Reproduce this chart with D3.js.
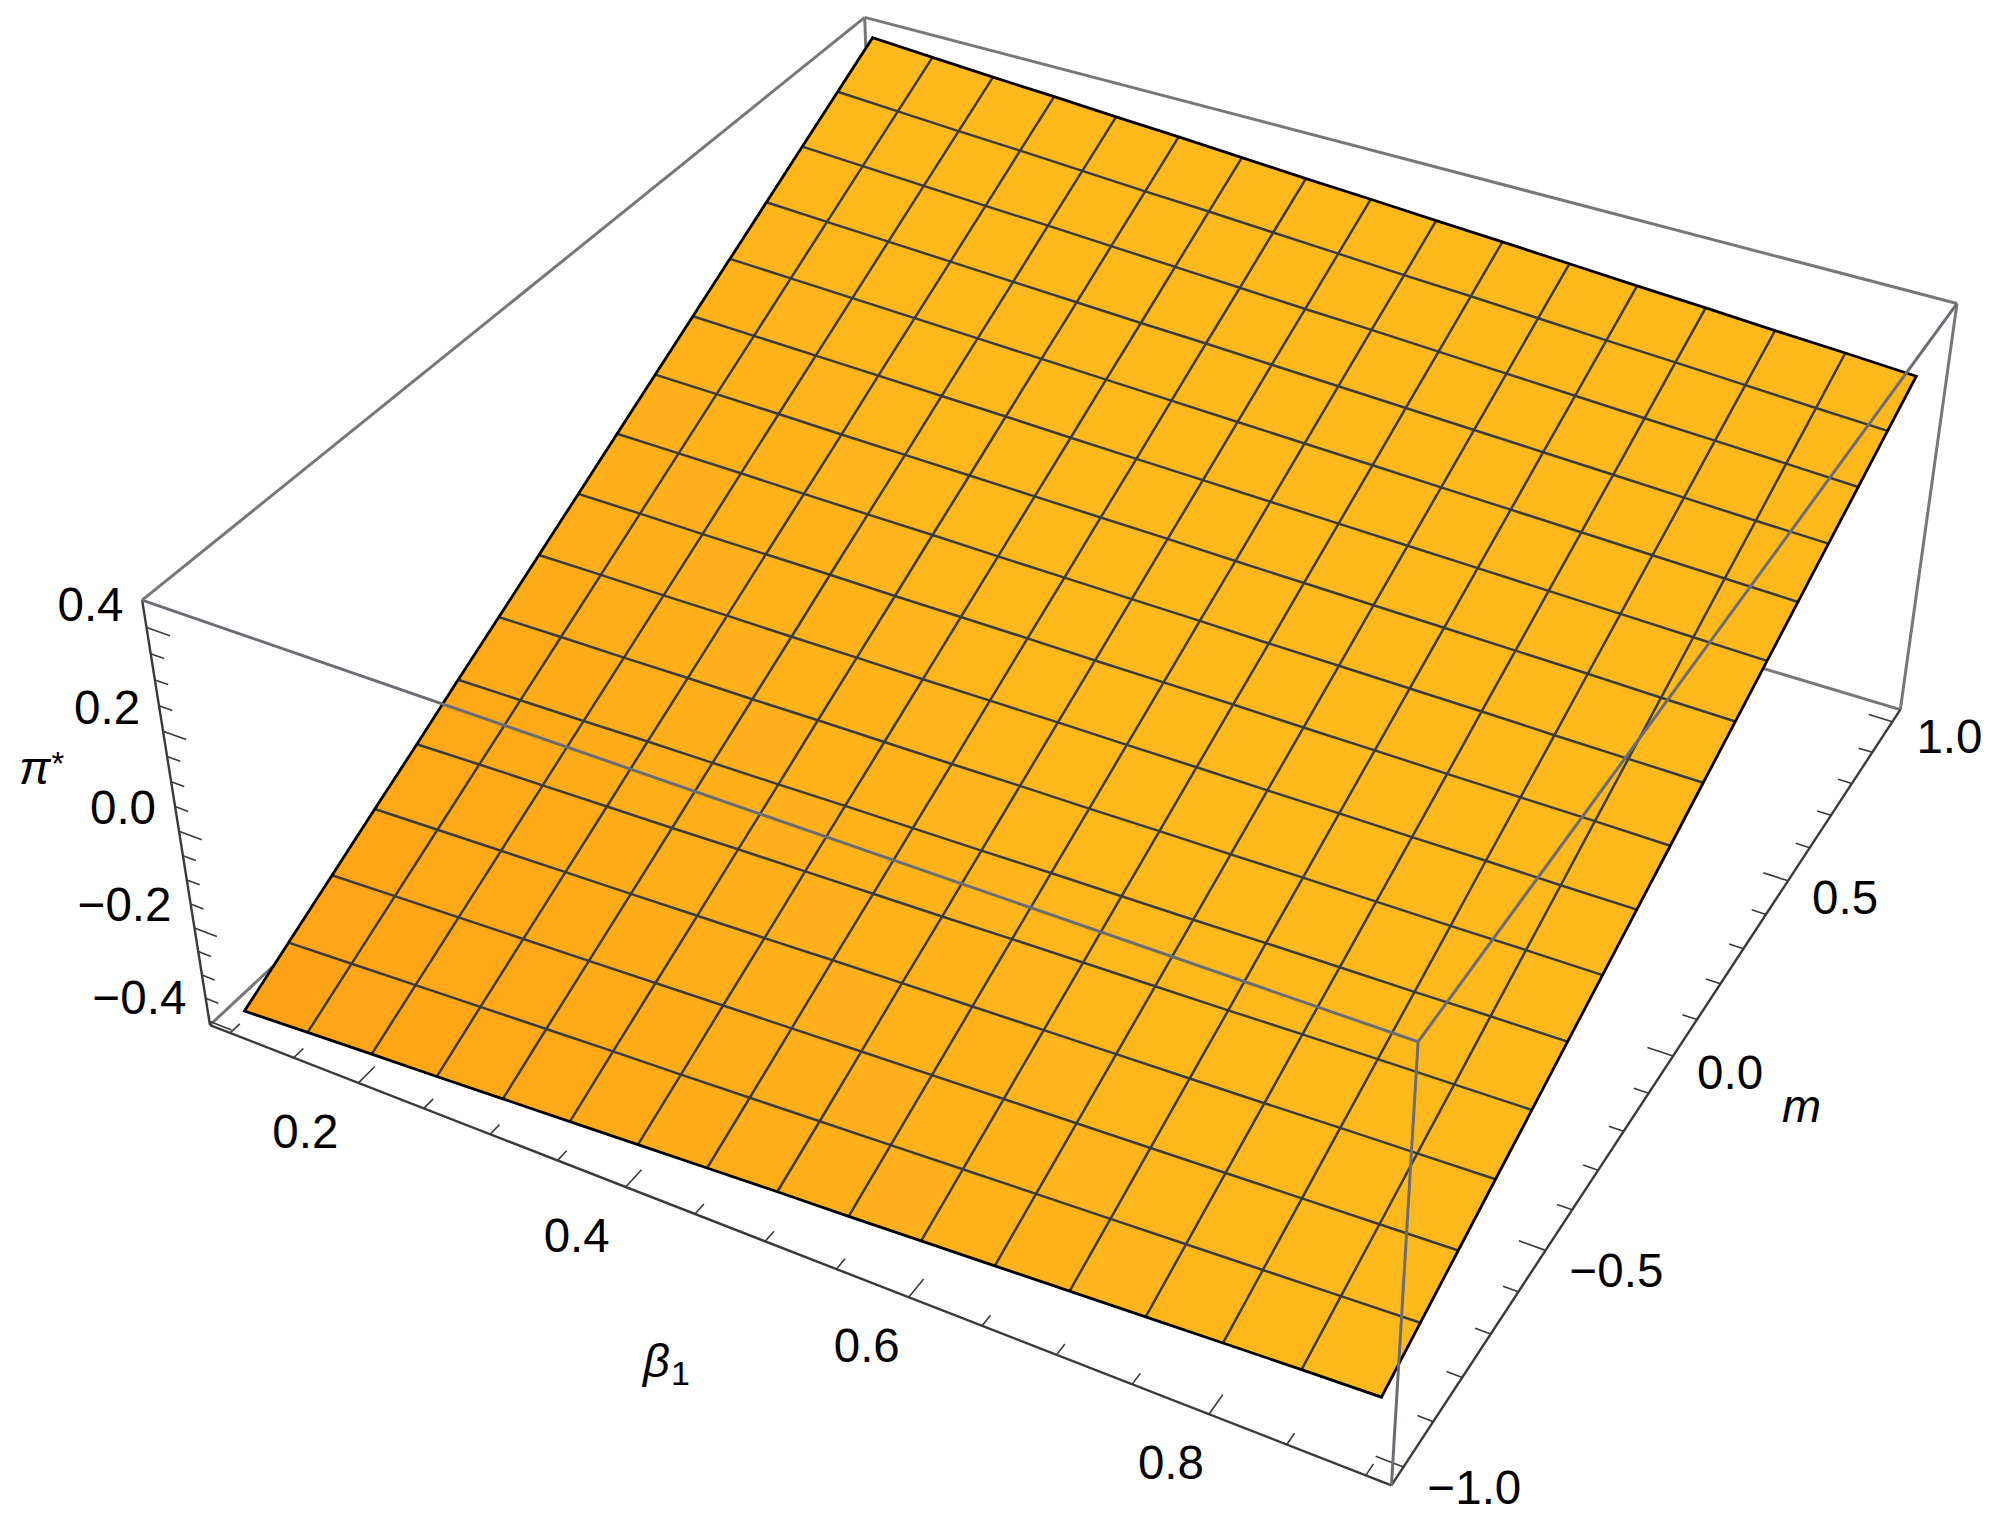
<!DOCTYPE html>
<html>
<head>
<meta charset="utf-8">
<style>
    body { margin: 0; background: #fff; }
    text { font-family: "Liberation Sans", Arial, sans-serif; fill: #000; }
</style>
</head>
<body>
<svg id="chart" width="1999" height="1526"></svg>
<script src="https://cdn.jsdelivr.net/npm/d3@7/dist/d3.min.js"></script>
<script>
// plot box limits
const betaRange = [0.084, 0.916]
const mRange = [-1.04, 1.04]
const piRange = [-0.408, 0.452]

// mesh positions
const betaGrid = [0.1, 0.15, 0.2, 0.25, 0.3, 0.35, 0.4, 0.45, 0.5, 0.55, 0.6, 0.65, 0.7, 0.75, 0.8, 0.85, 0.9]
const mGrid = [-1, -0.875, -0.75, -0.625, -0.5, -0.375, -0.25, -0.125, 0, 0.125, 0.25, 0.375, 0.5, 0.625, 0.75, 0.875, 1]

// pi*, one row per m, one column per beta
const piValues = [
    [-.392, -.385, -.378, -.372, -.365, -.358, -.351, -.344, -.337, -.331, -.324, -.317, -.310, -.303, -.296, -.289, -.283],
    [-.340, -.334, -.328, -.322, -.316, -.310, -.305, -.299, -.293, -.287, -.281, -.275, -.269, -.263, -.257, -.251, -.245],
    [-.288, -.283, -.278, -.273, -.268, -.263, -.258, -.253, -.248, -.243, -.238, -.233, -.228, -.223, -.218, -.213, -.208],
    [-.236, -.232, -.228, -.224, -.220, -.216, -.212, -.207, -.203, -.199, -.195, -.191, -.187, -.183, -.178, -.174, -.170],
    [-.185, -.181, -.178, -.175, -.172, -.168, -.165, -.162, -.159, -.155, -.152, -.149, -.146, -.142, -.139, -.136, -.133],
    [-.132, -.130, -.128, -.125, -.123, -.121, -.118, -.116, -.114, -.111, -.109, -.107, -.104, -.102, -.100, -.097, -.095],
    [-.081, -.079, -.078, -.076, -.075, -.073, -.072, -.071, -.069, -.068, -.066, -.065, -.063, -.062, -.061, -.059, -.058],
    [-.029, -.028, -.028, -.027, -.027, -.026, -.026, -.025, -.024, -.024, -.023, -.023, -.022, -.022, -.021, -.021, -.020],
    [.023, .023, .022, .022, .022, .021, .021, .021, .020, .020, .020, .019, .019, .018, .018, .018, .017],
    [.075, .074, .073, .071, .070, .069, .067, .066, .065, .064, .062, .061, .060, .059, .057, .056, .055],
    [.127, .125, .123, .120, .118, .116, .114, .112, .110, .107, .105, .103, .101, .099, .097, .094, .092],
    [.179, .176, .173, .170, .167, .164, .160, .157, .154, .151, .148, .145, .142, .139, .136, .133, .130],
    [.231, .227, .223, .219, .215, .211, .207, .203, .199, .195, .191, .187, .183, .179, .175, .171, .167],
    [.283, .278, .273, .268, .263, .258, .253, .249, .244, .239, .234, .229, .224, .219, .214, .209, .205],
    [.335, .329, .323, .317, .312, .306, .300, .294, .288, .283, .277, .271, .265, .259, .254, .248, .242],
    [.387, .380, .373, .367, .360, .353, .347, .340, .333, .326, .320, .313, .306, .300, .293, .286, .280],
    [.439, .431, .423, .416, .408, .401, .393, .385, .378, .370, .363, .355, .347, .340, .332, .325, .317]
]

// ticks
const betaTicks = [0.1, 0.15, 0.2, 0.25, 0.3, 0.35, 0.4, 0.45, 0.5, 0.55, 0.6, 0.65, 0.7, 0.75, 0.8, 0.85, 0.9]
const betaMajor = [0.2, 0.4, 0.6, 0.8]
const betaLabels = ["0.2", "0.4", "0.6", "0.8"]
const mTicks = [-1, -0.9, -0.8, -0.7, -0.6, -0.5, -0.4, -0.3, -0.2, -0.1, 0, 0.1, 0.2, 0.3, 0.4, 0.5, 0.6, 0.7, 0.8, 0.9, 1]
const mMajor = [-1, -0.5, 0, 0.5, 1]
const mLabels = ["\u22121.0", "\u22120.5", "0.0", "0.5", "1.0"]
const piTicks = [-0.4, -0.35, -0.3, -0.25, -0.2, -0.15, -0.1, -0.05, 0, 0.05, 0.1, 0.15, 0.2, 0.25, 0.3, 0.35, 0.4]
const piMajor = [-0.4, -0.2, 0, 0.2, 0.4]
const piLabels = ["\u22120.4", "\u22120.2", "0.0", "0.2", "0.4"]

// perspective camera fitted to the box, works on the 0-1 scaled coordinates
const camera = [1023.796, 854.1318, -78.00027, 209.9566, 291.9762, -537.2795, -467.9696, 1025.028, -0.1133153, 0.2120269, -0.07167342]

const xScale = d3.scaleLinear().domain(betaRange).range([0, 1])
const yScale = d3.scaleLinear().domain(mRange).range([0, 1])
const zScale = d3.scaleLinear().domain(piRange).range([0, 1])

function project(beta, m, pi) {
    const x = xScale(beta), y = yScale(m), z = zScale(pi)
    const w = camera[8] * x + camera[9] * y + camera[10] * z + 1
    return [
        (camera[0] * x + camera[1] * y + camera[2] * z + camera[3]) / w,
        (camera[4] * x + camera[5] * y + camera[6] * z + camera[7]) / w
    ]
}

const [b0, b1] = betaRange
const [m0, m1] = mRange
const [z0, z1] = piRange
const svg = d3.select("#chart")
const line = d3.line()

function edge(parent, a, b, color, width) {
    parent.append("path")
        .attr("d", line([project(...a), project(...b)]))
        .style("fill", "none")
        .style("stroke", color)
        .style("stroke-width", width)
}

const boxColor = "#777777"
const boxFront = "#6a6e74"
const axisColor = "#3a3a3a"

// Box edges behind the surface
const back = svg.append("g")
edge(back, [b0, m1, z1], [b0, m1, z0], boxColor, 3)
edge(back, [b0, m0, z0], [b0, m1, z0], boxColor, 3)
edge(back, [b1, m1, z0], [b0, m1, z0], boxColor, 3)
edge(back, [b0, m0, z1], [b0, m1, z1], boxColor, 3)
edge(back, [b0, m1, z1], [b1, m1, z1], boxColor, 3)
edge(back, [b1, m1, z1], [b1, m1, z0], boxColor, 3)

// Axis lines
const axes = svg.append("g")
edge(axes, [b0, m0, z1], [b0, m0, z0], axisColor, 2.4)
edge(axes, [b0, m0, z0], [b1, m0, z0], axisColor, 2.4)
edge(axes, [b1, m0, z0], [b1, m1, z0], axisColor, 2.4)

// Tick marks, length is a fraction of the range they point along
const tickMajor = 0.021, tickMinor = 0.012
const ticks = svg.append("g")
const isMajor = (list, v) => list.some(t => Math.abs(t - v) < 1e-6)
betaTicks.forEach(t => {
    const len = isMajor(betaMajor, t) ? tickMajor : tickMinor
    edge(ticks, [t, m0, z0], [t, m0 + len * (m1 - m0), z0], axisColor, 1.6)
})
mTicks.forEach(t => {
    const len = isMajor(mMajor, t) ? tickMajor : tickMinor
    edge(ticks, [b1, t, z0], [b1 - len * (b1 - b0), t, z0], axisColor, 1.6)
})
piTicks.forEach(t => {
    const len = isMajor(piMajor, t) ? tickMajor : tickMinor
    edge(ticks, [b0, m0, t], [b0 + len * (b1 - b0), m0, t], axisColor, 1.6)
})

// Surface cells
const cellColor = d3.scaleLinear().domain([0, 1]).range(["#ffa216", "#ffb91c"]).clamp(true)
const surface = svg.append("g")
const cells = []
for (let j = 0; j < mGrid.length - 1; j++) {
    for (let i = 0; i < betaGrid.length - 1; i++) {
        cells.push({ i, j })
    }
}
const surfacePoint = (i, j) => project(betaGrid[i], mGrid[j], piValues[j][i])
surface.selectAll("path.cell")
    .data(cells)
    .enter()
    .append("path")
    .attr("class", "cell")
    .attr("d", d => line([
        surfacePoint(d.i, d.j),
        surfacePoint(d.i + 1, d.j),
        surfacePoint(d.i + 1, d.j + 1),
        surfacePoint(d.i, d.j + 1)
    ]) + "Z")
    .style("fill", d => cellColor((d.i + d.j + 1) / (betaGrid.length - 1)))
    .style("stroke", d => cellColor((d.i + d.j + 1) / (betaGrid.length - 1)))
    .style("stroke-width", 0.6)

// Mesh lines
for (let j = 1; j < mGrid.length - 1; j++) {
    surface.append("path")
        .attr("d", line(betaGrid.map((b, i) => surfacePoint(i, j))))
        .style("fill", "none").style("stroke", "#3c3c3c").style("stroke-width", 2.5)
}
for (let i = 1; i < betaGrid.length - 1; i++) {
    surface.append("path")
        .attr("d", line(mGrid.map((m, j) => surfacePoint(i, j))))
        .style("fill", "none").style("stroke", "#3c3c3c").style("stroke-width", 2.5)
}

// Surface outline
const last = betaGrid.length - 1
const outline = [
    ...betaGrid.map((b, i) => surfacePoint(i, 0)),
    ...mGrid.map((m, j) => surfacePoint(last, j)),
    ...betaGrid.map((b, i) => surfacePoint(last - i, last)),
    ...mGrid.map((m, j) => surfacePoint(0, last - j))
]
surface.append("path")
    .attr("d", line(outline) + "Z")
    .style("fill", "none").style("stroke", "#000").style("stroke-width", 2.8)
    .style("stroke-linejoin", "miter")

// Box edges in front of the surface
const front = svg.append("g")
edge(front, [b0, m0, z1], [b1, m0, z1], boxFront, 3)
edge(front, [b1, m0, z1], [b1, m1, z1], boxFront, 3)
edge(front, [b1, m0, z1], [b1, m0, z0], boxFront, 3)

// Tick labels
const labelSize = 47.5
const betaLabelDx = [-53, -49, -42, -38]
const labels = svg.append("g").style("font-size", labelSize + "px")
betaMajor.forEach((t, i) => {
    const [x, y] = project(t, m0, z0)
    labels.append("text").attr("x", x + betaLabelDx[i]).attr("y", y + 65)
        .style("text-anchor", "middle").text(betaLabels[i])
})
const mLabelDy = [37, 37, 33, 33, 31]
mMajor.forEach((t, i) => {
    const [x, y] = project(b1, t, z0)
    labels.append("text").attr("x", x + 24).attr("y", y + mLabelDy[i])
        .style("text-anchor", "start").text(mLabels[i])
})
piMajor.forEach((t, i) => {
    const [x, y] = project(b0, m0, t)
    labels.append("text").attr("x", x - 23).attr("y", y - 7)
        .style("text-anchor", "end").text(piLabels[i])
})

// Axis titles
const titles = svg.append("g").style("font-size", "47px")
titles.append("text").attr("x", 19).attr("y", 784).style("font-style", "italic").text("\u03c0")
titles.append("text").attr("x", 50).attr("y", 775).style("font-style", "italic").style("font-size", "33px").text("*")
titles.append("text").attr("x", 643).attr("y", 1377).style("font-style", "italic").text("\u03b2")
titles.append("text").attr("x", 671).attr("y", 1385).style("font-size", "34px").text("1")
titles.append("text").attr("x", 1782).attr("y", 1122).style("font-style", "italic").text("m")
</script>
</body>
</html>
